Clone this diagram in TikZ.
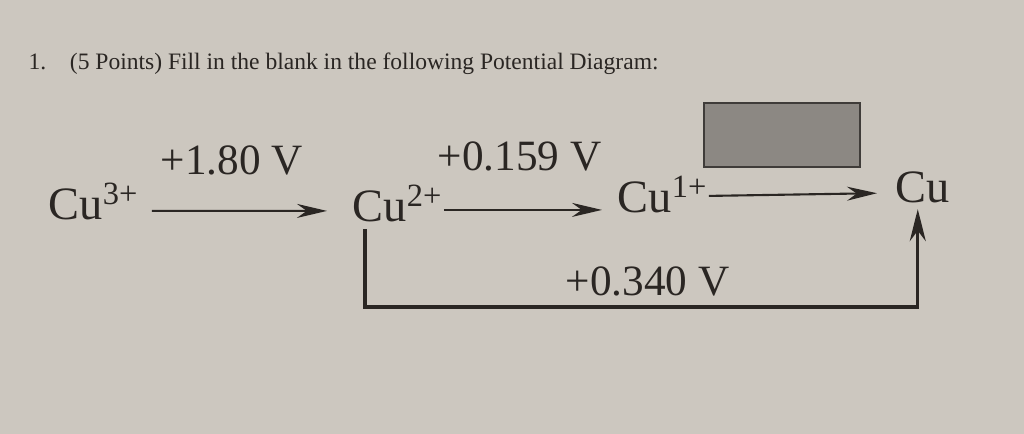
\documentclass[tikz,border=0pt]{standalone}
\usepackage{fontspec}
\setmainfont{Liberation Serif}
\usetikzlibrary{arrows.meta}
\definecolor{paper}{RGB}{204,199,191}
\definecolor{ink}{RGB}{42,38,35}
\definecolor{blankgray}{RGB}{140,136,131}

\begin{document}
\begin{tikzpicture}[every node/.style={text=ink, inner sep=0pt}, ion/.style={anchor=base west, font=\fontsize{13.2}{16}\selectfont}, volt/.style={anchor=base west, font=\fontsize{12.3}{15}\selectfont}, arr/.style={draw=ink, line width=0.6pt, -{Stealth[length=3mm,width=1.4mm]}}]
\fill[paper] (0,0) rectangle (10.24,4.34);
\node[anchor=base west, font=\fontsize{6.7}{8}\selectfont] (title) at (0.28,3.64) {1.\hspace{1em}(5 Points) Fill in the blank in the following Potential Diagram:};
\node[ion] (cu3) at (0.48,2.14) {Cu\textsuperscript{3+}};
\node[ion] (cu2) at (3.52,2.12) {Cu\textsuperscript{2+}};
\node[ion] (cu1) at (6.17,2.21) {Cu\textsuperscript{1+}};
\node[ion] (cu) at (8.95,2.31) {Cu};
\node[volt] (e1) at (1.60,2.59) {+1.80 V};
\node[volt] (e2) at (4.37,2.63) {+0.159 V};
\node[volt] (e3) at (5.65,1.38) {+0.340 V};
\node[draw=ink!90, fill=blankgray, line width=0.7pt, minimum width=1.56cm, minimum height=0.64cm] (blank) at (7.82,2.99) {};
\coordinate (floor) at (0,1.27);
\draw[arr, shorten <=0.12cm, shorten >=0.25cm] ([yshift=0.01cm]cu3.mid east) -- ([yshift=0.03cm]cu2.mid west);
\draw[arr, shorten >=0.15cm] ([yshift=0.04cm]cu2.mid east) -- ([yshift=0.04cm]cu2.mid east -| cu1.west);
\draw[arr, shorten >=0.18cm] ([yshift=0.09cm]cu1.mid east) -- ([yshift=0.02cm]cu.mid west);
\draw[arr, line width=0.9pt, -{Stealth[length=3.2mm,width=1.6mm]}] ([xshift=0.13cm,yshift=-0.06cm]cu2.south west) |- ([xshift=-0.05cm]floor -| cu.south) -- ([xshift=-0.05cm,yshift=-0.05cm]cu.south);
\end{tikzpicture}
\end{document}
